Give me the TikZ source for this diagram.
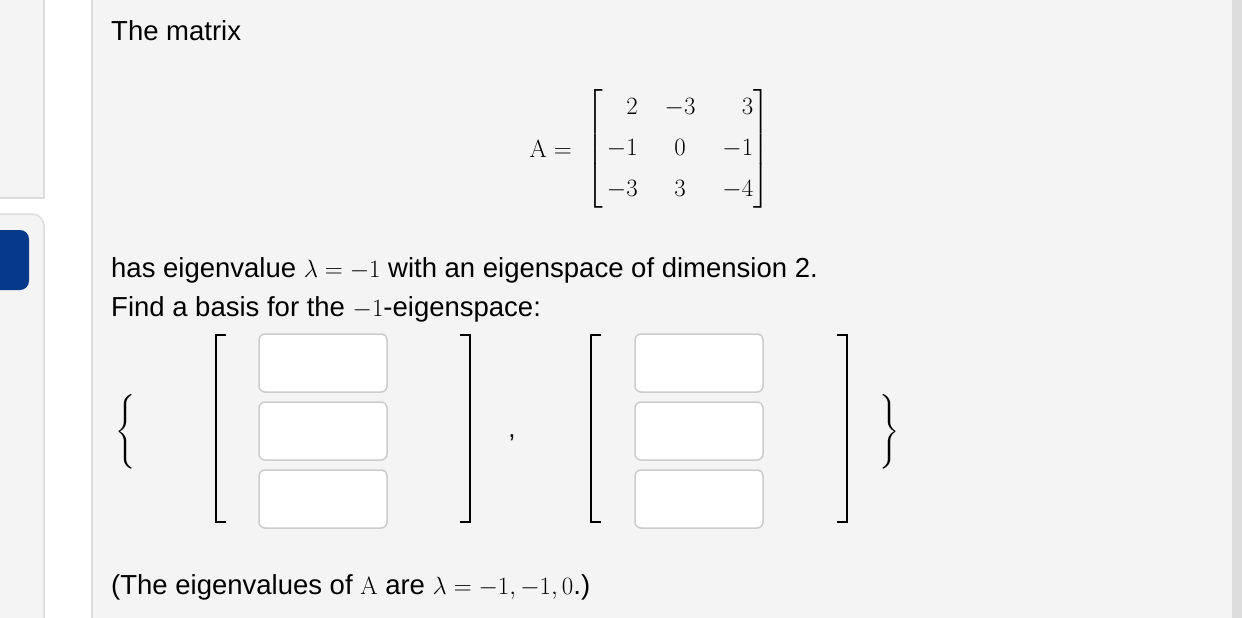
\documentclass[tikz,border=0pt]{standalone}
\usepackage{amsmath}
\usepackage[no-math]{fontspec}
\setmainfont{Liberation Sans}
\definecolor{bg}{HTML}{F4F4F4}
\definecolor{edge}{HTML}{DDDDDD}
\definecolor{boxedge}{HTML}{CCCCCC}
\definecolor{tab}{HTML}{06398A}
\begin{document}
\begin{tikzpicture}[x=1pt,y=-1pt,
  txt/.style={anchor=base west,inner sep=0pt,font=\fontsize{27.5}{30}\selectfont},
  inbox/.style={draw=boxedge,line width=1.5pt,fill=white,rounded corners=6pt},
  brk/.style={line width=2.6pt}]
\useasboundingbox (0,0) rectangle (1242,618);
\fill[white] (0,0) rectangle (1242,618);
% left panels
\fill[bg] (0,0) rectangle (44,198);
\draw[edge,line width=1.5pt] (44,0) -- (44,198) -- (0,198);
\fill[bg,rounded corners=12pt] (-20,214) rectangle (44,640);
\draw[edge,line width=1.5pt,rounded corners=12pt] (0,214) -- (44,214) -- (44,640);
\fill[tab,rounded corners=9pt] (-20,230) rectangle (29,290);
% main panel
\fill[bg] (92,0) rectangle (1232,618);
\draw[edge,line width=2pt] (92,0) -- (92,618);
\fill[edge] (1232,0) rectangle (1242,618);
% texts
\node[txt] (t1) at (111,41) {The matrix};
\node[anchor=base east,inner sep=0pt,font=\fontsize{30}{33}\selectfont] (A) at (572,157) {$\mathrm{A}=$};
\node[anchor=west,inner sep=0pt,font=\fontsize{30}{33}\selectfont] (M) at (586,149)
 {$\left[\begin{array}{@{\,}r@{\hspace{0.9em}}c@{\hspace{0.9em}}r@{}}2&-3&3\\[8pt]-1&0&-1\\[8pt]-3&3&-4\end{array}\right]$};
\node[txt] (t2) at (111,277) {has eigenvalue $\lambda=-1$ with an eigenspace of dimension 2.};
\node[txt] (t3) at (111,316) {Find a basis for the $-1$-eigenspace:};
\node[txt] (t4) at (111,594) {(The eigenvalues of $\mathrm{A}$ are $\lambda=-1,-1,0$.)};
% braces
\node[anchor=center,inner sep=0pt,font=\fontsize{27}{30}\selectfont] (lb) at (126,432) {$\left\{\vphantom{\rule{0pt}{44pt}}\right.$};
\node[anchor=center,inner sep=0pt,font=\fontsize{27}{30}\selectfont] (rb) at (889,432) {$\left.\vphantom{\rule{0pt}{44pt}}\right\}$};
\node[anchor=center,inner sep=0pt,font=\fontsize{26}{28}\selectfont] (cm) at (512,438) {,};
% brackets
\draw[brk] (226,335) -- (216,335) -- (216,522) -- (226,522);
\draw[brk] (460,335) -- (470,335) -- (470,522) -- (460,522);
\draw[brk] (601,335) -- (591,335) -- (591,522) -- (601,522);
\draw[brk] (837,335) -- (847,335) -- (847,522) -- (837,522);
% input boxes
\foreach \x/\n in {259/a,635/b}{
  \draw[inbox] (\x,334) rectangle +(128,58);
  \draw[inbox] (\x,402) rectangle +(128,58);
  \draw[inbox] (\x,470) rectangle +(128,58);
}
\end{tikzpicture}
\end{document}
